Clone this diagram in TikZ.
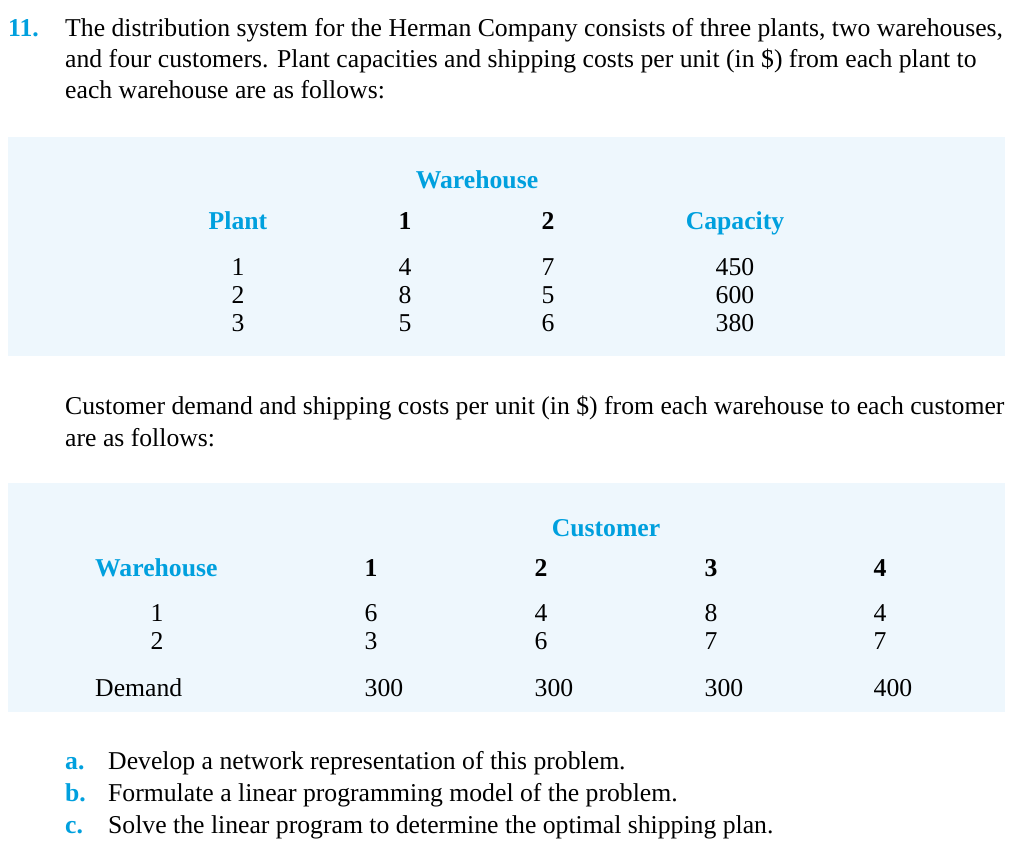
\documentclass[tikz,border=0pt]{standalone}
\usepackage{fontspec}
\setmainfont{Liberation Serif}
\definecolor{hblue}{RGB}{0,160,222}
\definecolor{panel}{RGB}{238,247,253}
\begin{document}
\begin{tikzpicture}[x=1pt,y=-1pt,font=\fontsize{25.7}{30}\selectfont,
  txt/.style={anchor=base west,inner sep=0pt},
  cell/.style={anchor=base,inner sep=0pt},
  head/.style={anchor=base,inner sep=0pt,font=\fontsize{25.7}{30}\selectfont\bfseries,text=hblue},
  bnum/.style={anchor=base,inner sep=0pt,font=\fontsize{25.7}{30}\selectfont\bfseries}]
\useasboundingbox (0,0) rectangle (1024,845);
\fill[white] (0,0) rectangle (1024,845);
\node[txt,font=\fontsize{25.7}{30}\selectfont\bfseries,text=hblue] (n11) at (8,37) {11.};
\node[txt] (l1) at (65,37) {The distribution system for the Herman Company consists of three plants, two warehouses,};
\node[txt] (l2) at (65,68) {and four customers. Plant capacities and shipping costs per unit (in \$) from each plant to};
\node[txt] (l3) at (65,99) {each warehouse are as follows:};
\fill[panel] (8,137) rectangle (1005,356);
\node[head] (wh) at (477,188) {Warehouse};
\node[head] (pl) at (238,229) {Plant};
\node[bnum] (w1) at (405,229) {1};
\node[bnum] (w2) at (548,229) {2};
\node[head] (cap) at (735,229) {Capacity};
\foreach \r/\y/\a/\b/\c in {1/275/4/7/450,2/303/8/5/600,3/331/5/6/380}{
  \node[cell] (p\r) at (238,\y) {\r};
  \node[cell] (a\r) at (405,\y) {\a};
  \node[cell] (b\r) at (548,\y) {\b};
  \node[cell] (c\r) at (735,\y) {\c};
}
\node[txt] (m1) at (65,414) {Customer demand and shipping costs per unit (in \$) from each warehouse to each customer};
\node[txt] (m2) at (65,446) {are as follows:};
\fill[panel] (8,483) rectangle (1005,712);
\node[head] (cu) at (606,536) {Customer};
\node[head,anchor=base west] (wh2) at (95,576) {Warehouse};
\node[bnum] (k1) at (371,576) {1};
\node[bnum] (k2) at (541,576) {2};
\node[bnum] (k3) at (711,576) {3};
\node[bnum] (k4) at (880,576) {4};
\node[cell] (r1) at (157,621) {1};
\node[cell] (r2) at (157,649) {2};
\foreach \i/\x/\u/\v in {1/371/6/3,2/541/4/6,3/711/8/7,4/880/4/7}{
  \node[cell] (u\i) at (\x,621) {\u};
  \node[cell] (v\i) at (\x,649) {\v};
}
\node[txt] (dem) at (95,696) {Demand};
\node[cell] (d1) at (384,696) {300};
\node[cell] (d2) at (554,696) {300};
\node[cell] (d3) at (724,696) {300};
\node[cell] (d4) at (893,696) {400};
\foreach \l/\y/\t in {a/769/Develop a network representation of this problem.,b/801/Formulate a linear programming model of the problem.,c/833/Solve the linear program to determine the optimal shipping plan.}{
  \node[txt,font=\fontsize{25.7}{30}\selectfont\bfseries,text=hblue] (q\l) at (65,\y) {\l.};
  \node[txt] (t\l) at (108,\y) {\t};
}
\end{tikzpicture}
\end{document}
